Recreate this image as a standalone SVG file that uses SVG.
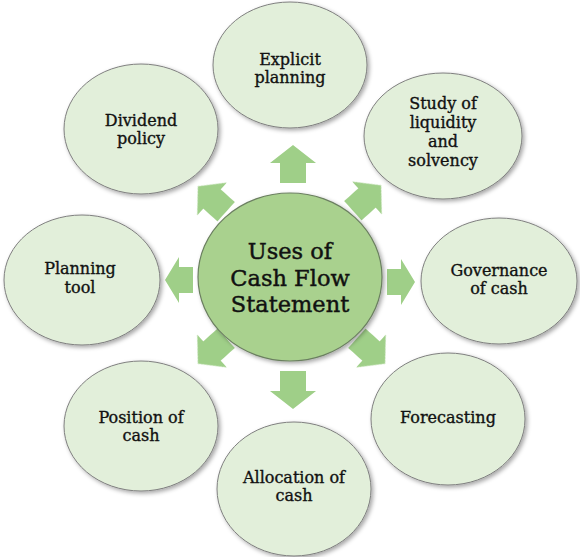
<svg xmlns="http://www.w3.org/2000/svg" xmlns:xlink="http://www.w3.org/1999/xlink" width="580" height="557" viewBox="0 0 580 557">
<style>
.outer{fill:#e2efda;stroke:#7f7f7f;stroke-width:1;filter:url(#sh)}
.center{fill:#a9d18e;stroke:#6b7f60;stroke-width:1.2;filter:url(#sh)}
.arr{fill:#9fcf88;filter:url(#ash)}
text{font-family:"DejaVu Serif","Liberation Serif",serif;fill:#111;stroke:#111;stroke-width:0.35;text-anchor:middle}
.t{font-size:16px}
.c{font-size:22.5px;stroke-width:0.45}
</style>
<defs>
<filter id="sh" x="-10%" y="-10%" width="125%" height="125%">
<feDropShadow dx="2" dy="2" stdDeviation="2" flood-color="#000" flood-opacity="0.35"/>
</filter>
<filter id="ash" x="-20%" y="-20%" width="140%" height="140%">
<feGaussianBlur stdDeviation="0.6"/>
</filter>
<polygon id="arrH" points="-14,-13 0,-13 0,-23 14,0 0,23 0,13 -14,13"/>
<polygon id="arrV" points="-19,-13 1,-13 1,-23 19,0 1,23 1,13 -19,13"/>
<polygon id="arrD" points="-19,-13 0,-13 0,-22 19,0 0,22 0,13 -19,13"/>
</defs>
<g id="connectors">
<use xlink:href="#arrV" class="arr" transform="translate(293,164) rotate(-90)"/>
<use xlink:href="#arrV" class="arr" transform="translate(293,390) rotate(90)"/>
<use xlink:href="#arrH" class="arr" transform="translate(401,282)"/>
<use xlink:href="#arrH" class="arr" transform="translate(179,280) rotate(180)"/>
<use xlink:href="#arrD" class="arr" transform="translate(367,198) rotate(-42)"/>
<use xlink:href="#arrD" class="arr" transform="translate(212,199) rotate(-138)"/>
<use xlink:href="#arrD" class="arr" transform="translate(212,351) rotate(138)"/>
<use xlink:href="#arrD" class="arr" transform="translate(371,351) rotate(42)"/>
</g>
<g id="explicit">
<ellipse class="outer" cx="290" cy="65" rx="77" ry="63"/>
<text class="t" x="290" y="65">Explicit</text>
<text class="t" x="290" y="83">planning</text>
</g>
<g id="study">
<ellipse class="outer" cx="443" cy="136" rx="79" ry="63"/>
<text class="t" x="443" y="109">Study of</text>
<text class="t" x="443" y="128">liquidity</text>
<text class="t" x="443" y="147">and</text>
<text class="t" x="443" y="166">solvency</text>
</g>
<g id="governance">
<ellipse class="outer" cx="499" cy="281" rx="78" ry="63"/>
<text class="t" x="499" y="276">Governance</text>
<text class="t" x="499" y="294">of cash</text>
</g>
<g id="forecasting">
<ellipse class="outer" cx="448" cy="419" rx="77" ry="66"/>
<text class="t" x="448" y="423">Forecasting</text>
</g>
<g id="allocation">
<ellipse class="outer" cx="294" cy="489" rx="77" ry="67"/>
<text class="t" x="294" y="483">Allocation of</text>
<text class="t" x="294" y="501">cash</text>
</g>
<g id="position">
<ellipse class="outer" cx="141" cy="426" rx="77" ry="65"/>
<text class="t" x="141" y="423">Position of</text>
<text class="t" x="141" y="441">cash</text>
</g>
<g id="planning">
<ellipse class="outer" cx="82" cy="280" rx="78" ry="65"/>
<text class="t" x="80" y="274">Planning</text>
<text class="t" x="80" y="293">tool</text>
</g>
<g id="dividend">
<ellipse class="outer" cx="141" cy="129" rx="77" ry="65"/>
<text class="t" x="141" y="126">Dividend</text>
<text class="t" x="141" y="144">policy</text>
</g>
<g id="center">
<ellipse class="center" cx="290" cy="277" rx="92" ry="84"/>
<text class="c" x="290" y="259">Uses of</text>
<text class="c" x="290" y="286">Cash Flow</text>
<text class="c" x="290" y="312">Statement</text>
</g>
</svg>
